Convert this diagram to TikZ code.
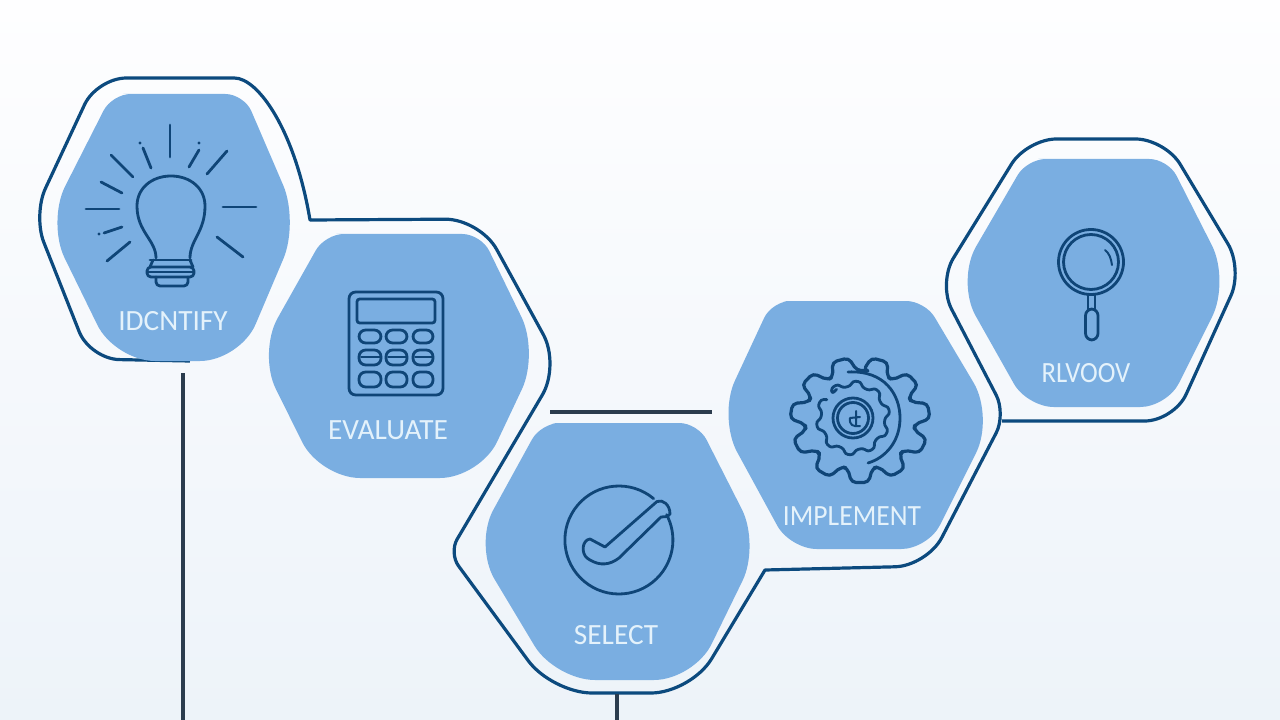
\documentclass[tikz,border=0pt]{standalone}
\usepackage{fontspec}
\setmainfont{Carlito}
\usetikzlibrary{calc}
\definecolor{blobblue}{HTML}{7AAEE1}
\definecolor{navy}{HTML}{0C4A7E}
\definecolor{icon}{HTML}{0F4577}
\definecolor{stem}{HTML}{2B3C4E}
\definecolor{labeltext}{HTML}{E4F2FB}
\definecolor{bgtop}{HTML}{FEFEFF}
\definecolor{bgmid}{HTML}{F8FAFD}
\definecolor{bgbot}{HTML}{EDF3F9}
\tikzset{
  blob/.style={fill=blobblue,draw=none},
  outline/.style={draw=navy,line width=2.4pt,line join=round},
  stemline/.style={draw=stem,line width=2.3pt},
  ic/.style={draw=icon,line width=2.1pt,line cap=round,line join=round},
  ict/.style={draw=icon,line width=1.5pt,line cap=round,line join=round},
  lab/.style={text=labeltext,font=\fontsize{22}{26}\selectfont,inner sep=0pt}
}
% TLx TRx yt Rx ym BRx BLx yb Lx  (radii: top, side, bottom are set by \rt \rs \rb)
\newcommand{\hexa}[9]{%
  \fill[blob] (#1+30,#3) [rounded corners=\rt] -- (#2,#3) [rounded corners=\rs] -- (#4,#5)
    [rounded corners=\rb] -- (#6,#8) -- (#7,#8)
    [rounded corners=\rs] -- (#9,#5) [rounded corners=\rt] -- (#1,#3) -- cycle;}
\begin{document}
\begin{tikzpicture}[x=0.75pt,y=-0.75pt]
\useasboundingbox (0,0) rectangle (1280,720);
\shade[top color=bgtop,middle color=bgmid,bottom color=bgbot] (0,0) rectangle (1280,720);

% outer outline
\draw[outline] (190,361) [rounded corners=22] -- (90,359) -- (33,215) -- (97,78) -- (205,78) [sharp corners] .. controls (258,78) and (295,130) .. (310,220)
  [rounded corners=26] -- (480,219) -- (560,365) [rounded corners=12] -- (449,553) [rounded corners=30] -- (552,693) -- (691,693) [sharp corners] -- (765,570)
  [rounded corners=24] -- (927,566) [rounded corners=16] -- (1006,414) [rounded corners=22] -- (938,283) -- (1027,139) -- (1165,139) -- (1243,269) -- (1174,421) [sharp corners] -- (1002,421);

% blobs
\def\rt{14}\def\rs{30}\def\rb{30}
\hexa{112}{244}{94}{299}{222}{240}{115}{361}{47}
\hexa{325}{481}{234}{539}{353}{480}{320}{478}{258}
\hexa{541}{698}{423}{760}{545}{694}{555}{680}{474}
\def\rb{20}
\hexa{772}{925}{301}{994}{417}{928}{790}{549}{718}
\hexa{1027}{1168}{159}{1230}{281}{1167}{1027}{407}{956}

% stems
\coordinate (s1a) at (183,373); \coordinate (s1b) at (183,720);
\coordinate (s2a) at (617,694); \coordinate (s2b) at (617,720);
\coordinate (s3a) at (550,412); \coordinate (s3b) at (712,412);
\draw[stemline] (s1a) -- (s1b);
\draw[stemline] (s2a) -- (s2b);
\draw[stemline] (s3a) -- (s3b);

% bulb
\foreach \a/\b in {{170,125}/{170,157},{143,148}/{151,168},{199,150}/{189,167},{111,155}/{133,177},{227,151}/{207,174},{101,182}/{122,193},{86,209}/{119,209},{223,207}/{256,207},{122,227}/{104,233},{130,242}/{107,261},{217,237}/{243,257}}
  \draw[ic] (\a) -- (\b);
\fill[icon] (140,143) circle (1.7) (199,143) circle (1.7) (99,234) circle (1.7);
\draw[ic] (156,258) .. controls (156,240) and (137,232) .. (137,206) .. controls (137,188) and (152,176) .. (171,176) .. controls (190,176) and (205,188) .. (205,206) .. controls (205,232) and (190,240) .. (190,258);
\draw[ic] (150,260) -- (191,260);
\draw[ic,rounded corners=2.5] (153,260) -- (150,267) (190,260) -- (193,267);
\draw[ic,rounded corners=3] (147,267) rectangle (194,277);
\draw[ic,rounded corners=3] (156,277) -- (156,286) -- (188,286) -- (188,277);
\draw[ict] (148,272) -- (193,272);

% calculator
\draw[ic,rounded corners=5] (349,292) rectangle (443,395);
\draw[ic,rounded corners=2] (357,299) rectangle (435,323);
\foreach \x/\w in {359/381,386/407,413/433}{
  \draw[ic,rounded corners=5] (\x,330) rectangle (\w,343);
  \draw[ic,rounded corners=5] (\x,350) rectangle (\w,365);
  \draw[ic,rounded corners=5] (\x,372) rectangle (\w,387);
}
\draw[ict] (361,357) -- (380,357) (388,357) -- (406,357) (415,357) -- (432,357);

% check
\draw[ic] (618.9,540) ++(-50:54) arc (-50:-388:54);
\draw[ic] (590,539) -- (605,547) -- (657,501.5) .. controls (663,499) and (670,505) .. (670,514) .. controls (668,517) and (664,517) .. (661,517) -- (619,558) .. controls (610,565) and (600,566) .. (590,560) -- (587,558) .. controls (581,553) and (582,540) .. (590,539) -- cycle;

% gear
\begin{scope}[shift={(860,420)},yscale=0.9]
\draw[ic,line width=2.4pt,rounded corners=3.5] (-85.5:55)
  \foreach \i [evaluate=\i as \t using {-73.64+\i*32.727}] in {0,...,10}{
    -- (\t-13:55) -- (\t-7:70) -- (\t+7:70) -- (\t+13:55)
  } -- cycle;
\end{scope}
\begin{scope}[shift={(853,418)}]
\draw[ic] (0,0) circle (20);
\draw[ic] (0,0) circle (15.5);
\draw[ic,rounded corners=2] (-120:33)
  \foreach \i [evaluate=\i as \t using {-120+\i*36}] in {0,...,9}{
    -- (\t-11:32) -- (\t-6:37) -- (\t+6:37) -- (\t+11:32)
  };
\draw[ic] (-5,-46) .. controls (32,-48) and (47,-23) .. (47,0) .. controls (47,24) and (32,40) .. (15,45);
\draw[ict] (3,-7) -- (3,7) (-3,0) .. controls (-4,7) and (0,9) .. (7,8) (-3,0) -- (7,-1);
\end{scope}

% magnifier
\draw[ic] (1091,262) circle (32.5);
\draw[ic] (1091,262) circle (27.5);
\draw[ict] (1105,250) .. controls (1109,253) and (1111,258) .. (1112,265);
\draw[ic] (1088,295) -- (1088,309) (1095,295) -- (1095,309);
\draw[ic,rounded corners=5] (1085.5,309) rectangle (1098,340);

% labels
\node[lab] (identify) at (173,321) {IDCNTIFY};
\node[lab] (evaluate) at (388,430) {EVALUATE};
\node[lab] (select) at (616,635) {SELECT};
\node[lab,xscale=0.94] (implement) at (852,516) {IMPLEMENT};
\node[lab,xscale=0.91] (review) at (1086,373) {RLVOOV};
\end{tikzpicture}
\end{document}
